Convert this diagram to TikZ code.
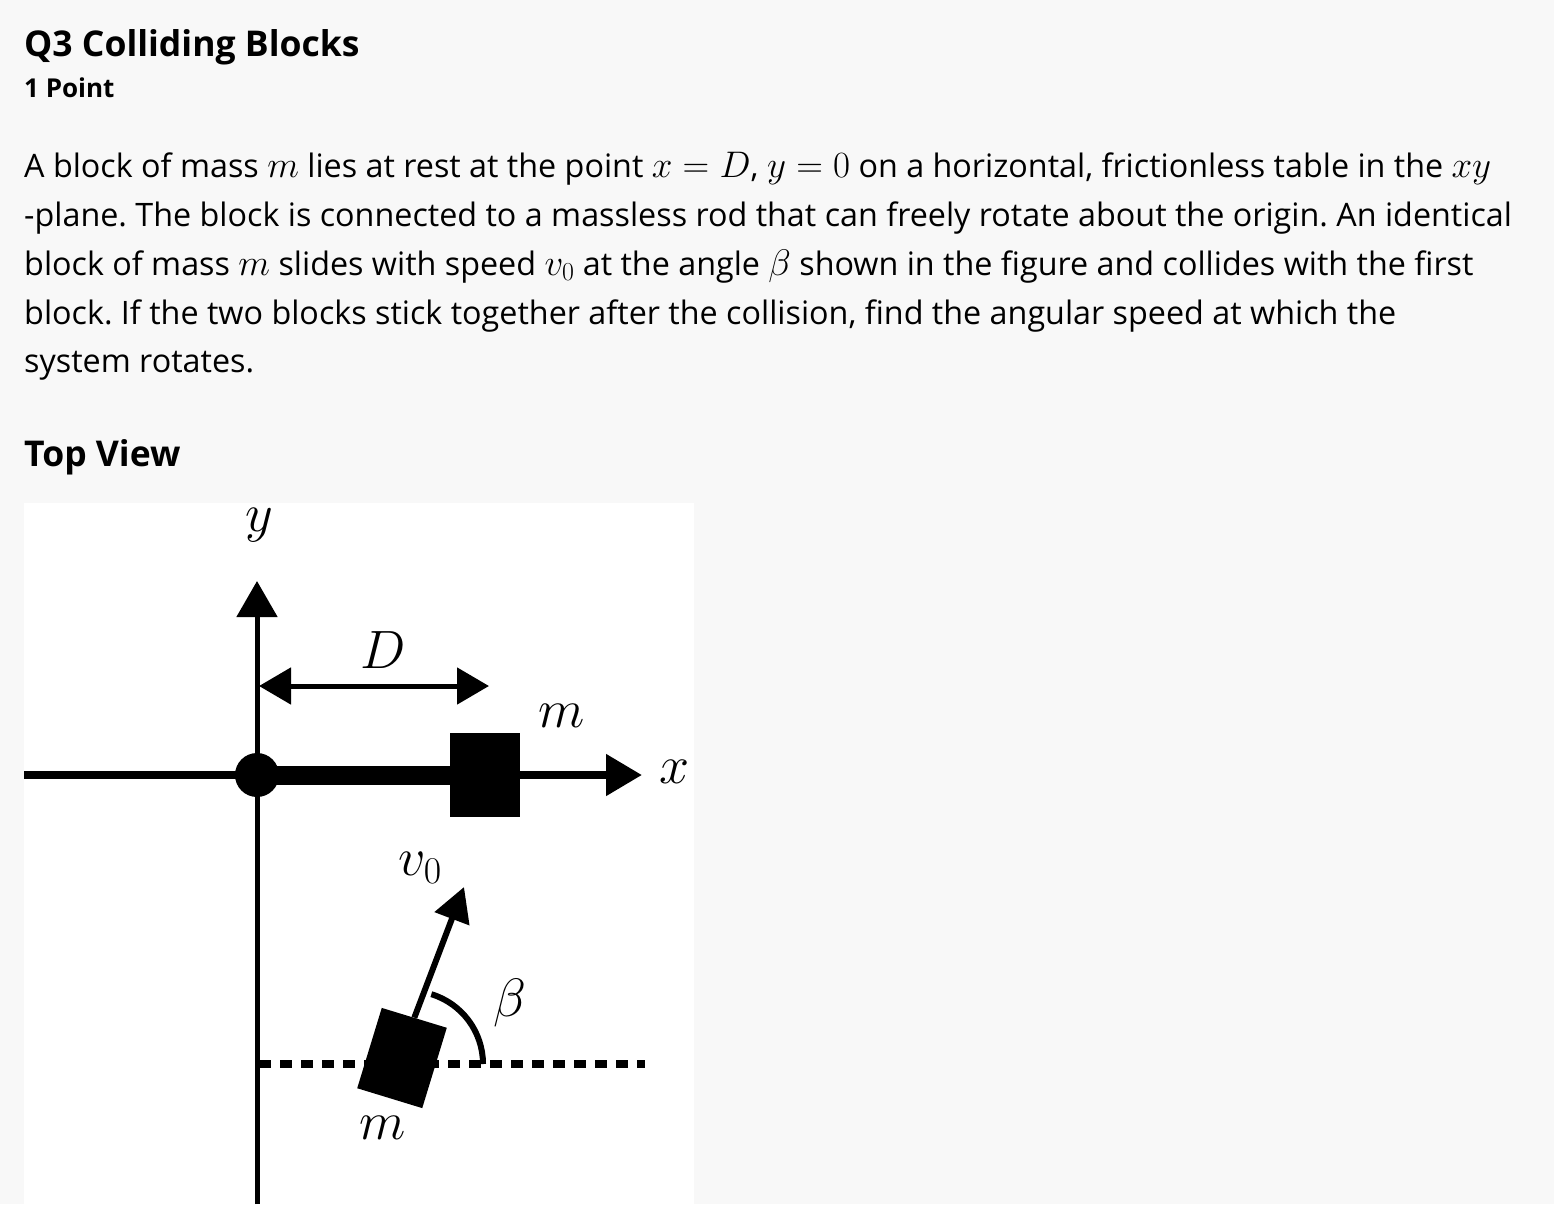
\RequirePackage{fix-cm}
\documentclass[tikz,border=0pt]{standalone}
\usepackage[no-math]{fontspec}
\setmainfont{Open Sans}
\usetikzlibrary{arrows.meta}
\definecolor{bg}{HTML}{F8F8F8}
\newcommand\MM[1]{{\fontsize{37}{37}\selectfont$#1$}}
\tikzset{
 body/.style={anchor=base west,inner sep=0,font=\fontsize{32.3}{36}\selectfont},
 lbl/.style={inner sep=0,font=\fontsize{54}{60}\selectfont},
 bigtip/.style={-{Triangle[length=36pt,width=40pt]}},
 blk/.style={fill=black,draw=none}
}
\frenchspacing
\begin{document}
\begin{tikzpicture}[x=1pt,y=-1pt]
\useasboundingbox (0,0) rectangle (1554,1204);
\fill[bg] (0,0) rectangle (1554,1204);
\fill[white] (24,503) rectangle (694,1204);
\node[body,font=\fontsize{35.5}{40}\selectfont\bfseries] (title) at (24,57) {Q3 Colliding Blocks};
\node[body,font=\fontsize{26}{30}\selectfont\bfseries] (pts) at (24,98) {1 Point};
\node[body] (l1) at (24,177) {A block of mass \MM{m} lies at rest at the point \MM{x=D}, \MM{y=0} on a horizontal, frictionless table in the \MM{xy}};
\node[body] (l2) at (24,226) {-plane. The block is connected to a massless rod that can freely rotate about the origin. An identical};
\node[body] (l3) at (24,275) {block of mass \MM{m} slides with speed \MM{v_0} at the angle \MM{\beta} shown in the figure and collides with the first};
\node[body] (l4) at (24,324) {block. If the two blocks stick together after the collision, find the angular speed at which the};
\node[body] (l5) at (24,372) {system rotates.};
\node[body,font=\fontsize{35.5}{40}\selectfont\bfseries] (tv) at (24,466) {Top View};
% axes
\coordinate (O) at (257,775);
\coordinate (ybot) at (257,1204);
\coordinate (ytop) at (257,581);
\coordinate (xl) at (24,775);
\coordinate (xr) at (642,775);
\draw[line width=5pt,bigtip] (ybot) -- (ytop);
\draw[line width=8pt,bigtip] (xl) -- (xr);
\node[lbl] (ylab) at (259,525) {$y$};
\node[lbl] (xlab) at (675,772) {$x$};
% rod and block
\node[blk,minimum width=70pt,minimum height=84pt,inner sep=0] (b1) at (485,775) {};
\draw[line width=19pt] (O) -- (b1.west);
\fill (O) circle (22);
\node[lbl] (m1) at (562,716) {$m$};
% D arrow
\coordinate (dl) at (259,686);
\coordinate (dr) at (489,686);
\draw[line width=5pt,{Triangle[length=32pt,width=36pt]}-{Triangle[length=32pt,width=36pt]}] (dl) -- (dr);
\node[lbl] (Dlab) at (383,650) {$D$};
% dashed
\coordinate (dsl) at (259,1064);
\coordinate (dsr) at (645,1064);
\draw[line width=8pt,dash pattern=on 12pt off 9pt] (dsl) -- (dsr);
% tilted block
\node[blk,minimum width=68pt,minimum height=84pt,inner sep=0,rotate=-17] (b2) at (402,1058) {};
\draw[line width=6pt,-{Triangle[length=34pt,width=36pt]}] (b2.north) -- (464,887);
\draw[line width=6pt] (483,1064) arc[start angle=0,end angle=-73,radius=73];
\node[lbl] (beta) at (510,1003) {$\beta$};
\node[lbl] (v0) at (420,868) {$v_0$};
\node[lbl] (m2) at (383,1128) {$m$};
\end{tikzpicture}
\end{document}
